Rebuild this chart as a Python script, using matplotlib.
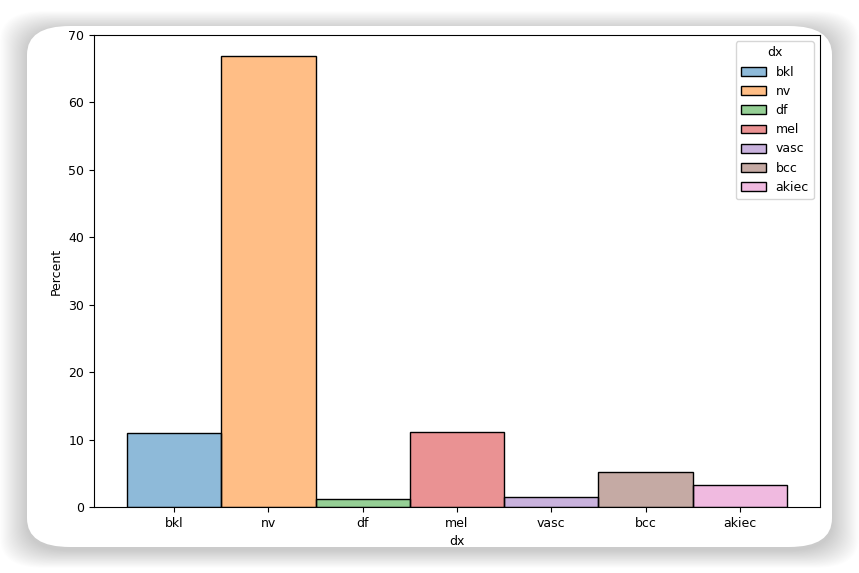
import matplotlib
matplotlib.use("Agg")
import matplotlib.pyplot as plt
from matplotlib.patches import FancyBboxPatch, Patch

categories = ["bkl", "nv", "df", "mel", "vasc", "bcc", "akiec"]
percent = [10.97, 66.95, 1.15, 11.11, 1.42, 5.13, 3.27]

colors = plt.get_cmap("tab10").colors[:len(categories)]

fig = plt.figure(figsize=(8.59, 5.73), dpi=100)
fig.patch.set_facecolor("white")

# soft shadow + rounded white card behind the plot
W, H = 859, 573
cx0, cy0, cx1, cy1 = 27, 26, 832, 547
for i in range(26, 0, -1):
    sh = FancyBboxPatch((cx0 / W, 1 - (cy1 + 3) / H), (cx1 - cx0) / W, (cy1 - cy0) / H,
                        boxstyle="round,pad=%f,rounding_size=0.05" % (i * 0.0012),
                        transform=fig.transFigure, facecolor="black", edgecolor="none",
                        alpha=0.006, zorder=-3)
    fig.patches.append(sh)
card = FancyBboxPatch((cx0 / W, 1 - cy1 / H), (cx1 - cx0) / W, (cy1 - cy0) / H,
                      boxstyle="round,pad=0,rounding_size=0.05",
                      transform=fig.transFigure, facecolor="white", edgecolor="none",
                      zorder=-2)
fig.patches.append(card)

ax = fig.add_axes([94 / W, 1 - 507 / H, (820 - 94) / W, (507 - 35) / H])
ax.set_facecolor("none")

x = list(range(len(categories)))
ax.bar(x, percent, width=1.0, color=colors, alpha=0.5, edgecolor="none")
ax.bar(x, percent, width=1.0, fill=False, edgecolor="black", linewidth=1)

ax.set_xticks(x)
ax.set_xticklabels(categories)
ax.set_ylim(0, 70)
ax.set_xlim(-0.85, 6.85)
ax.set_xlabel("dx", fontsize=9)
ax.set_ylabel("Percent", fontsize=9)
ax.tick_params(labelsize=9)

handles = [Patch(facecolor=(c[0], c[1], c[2], 0.5), edgecolor="black") for c in colors]
ax.legend(handles, categories, title="dx", loc="upper right", fontsize=9, title_fontsize=9)

fig.savefig("out.png", dpi=100)
